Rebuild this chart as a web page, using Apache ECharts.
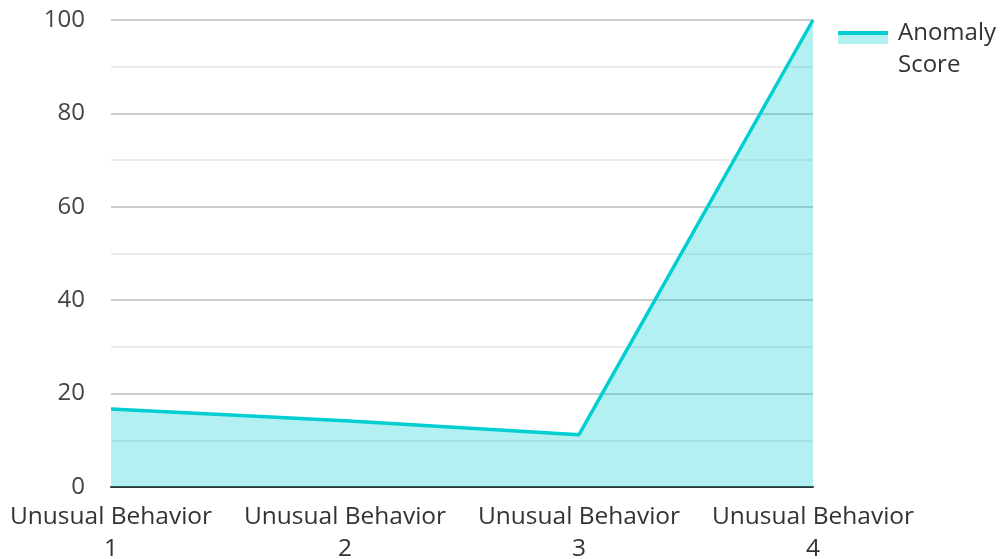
<!DOCTYPE html>
<html>
<head>
<meta charset="utf-8">
<script src="https://cdn.jsdelivr.net/npm/echarts@6/dist/echarts.min.js"></script>
<style>
  html, body { margin: 0; padding: 0; background: #fff; }
  #chart { width: 1003px; height: 559px; }
</style>
</head>
<body>
<div id="chart"></div>
<script>
// data
const categories = ['Unusual Behavior\n1', 'Unusual Behavior\n2', 'Unusual Behavior\n3', 'Unusual Behavior\n4'];
const anomalyScore = [16.7, 14.2, 11.2, 100];
const seriesName = 'Anomaly Score';

const lineColor = '#00CED1';
const areaColor = 'rgba(0, 206, 209, 0.3)';
const swatchArea = '#b2f0f1';

const chart = echarts.init(document.getElementById('chart'));
const font = '"Open Sans", "Noto Sans", sans-serif';
chart.setOption({
    animation: false,
    textStyle: { fontFamily: font },
    grid: { left: 111, right: 190, top: 20, bottom: 72, containLabel: false, outerBoundsMode: 'none' },
    legend: {
        data: [{
            name: seriesName,
            icon: 'rect',
            itemStyle: {
                // swatch sits next to the first text line: line on top, area underneath
                color: new echarts.graphic.LinearGradient(0, 0, 0, 1, [
                    { offset: 0, color: 'rgba(255,255,255,0)' },
                    { offset: 0.219, color: 'rgba(255,255,255,0)' },
                    { offset: 0.219, color: lineColor },
                    { offset: 0.281, color: lineColor },
                    { offset: 0.281, color: swatchArea },
                    { offset: 0.422, color: swatchArea },
                    { offset: 0.422, color: 'rgba(255,255,255,0)' },
                    { offset: 1, color: 'rgba(255,255,255,0)' }
                ])
            }
        }],
        orient: 'vertical',
        left: 838,
        top: 17,
        padding: 0,
        itemWidth: 50,
        itemHeight: 64,
        itemGap: 10,
        formatter: () => 'Anomaly\nScore',
        textStyle: { fontSize: 24, color: '#333', lineHeight: 32, fontFamily: font, padding: [0, 0, 0, 5] }
    },
    xAxis: {
        type: 'category',
        data: categories,
        boundaryGap: false,
        axisLine: { lineStyle: { color: '#333', width: 2 } },
        axisTick: { show: false },
        axisLabel: { fontSize: 24.5, color: '#333', lineHeight: 32, margin: 14, interval: 0 }
    },
    yAxis: {
        type: 'value',
        min: 0,
        max: 100,
        interval: 20,
        axisLine: { show: false },
        axisTick: { show: false },
        axisLabel: { fontSize: 24, color: '#444', margin: 26 },
        splitLine: { lineStyle: { color: '#ccc', width: 2 } },
        minorTick: { show: false, splitNumber: 2 },
        minorSplitLine: { show: true, lineStyle: { color: '#e6e6e6', width: 1.5 } }
    },
    series: [{
        name: seriesName,
        type: 'line',
        data: anomalyScore,
        symbol: 'none',
        lineStyle: { color: lineColor, width: 3.5 },
        itemStyle: { color: lineColor },
        areaStyle: { color: areaColor, opacity: 1 }
    }]
});
</script>
</body>
</html>
